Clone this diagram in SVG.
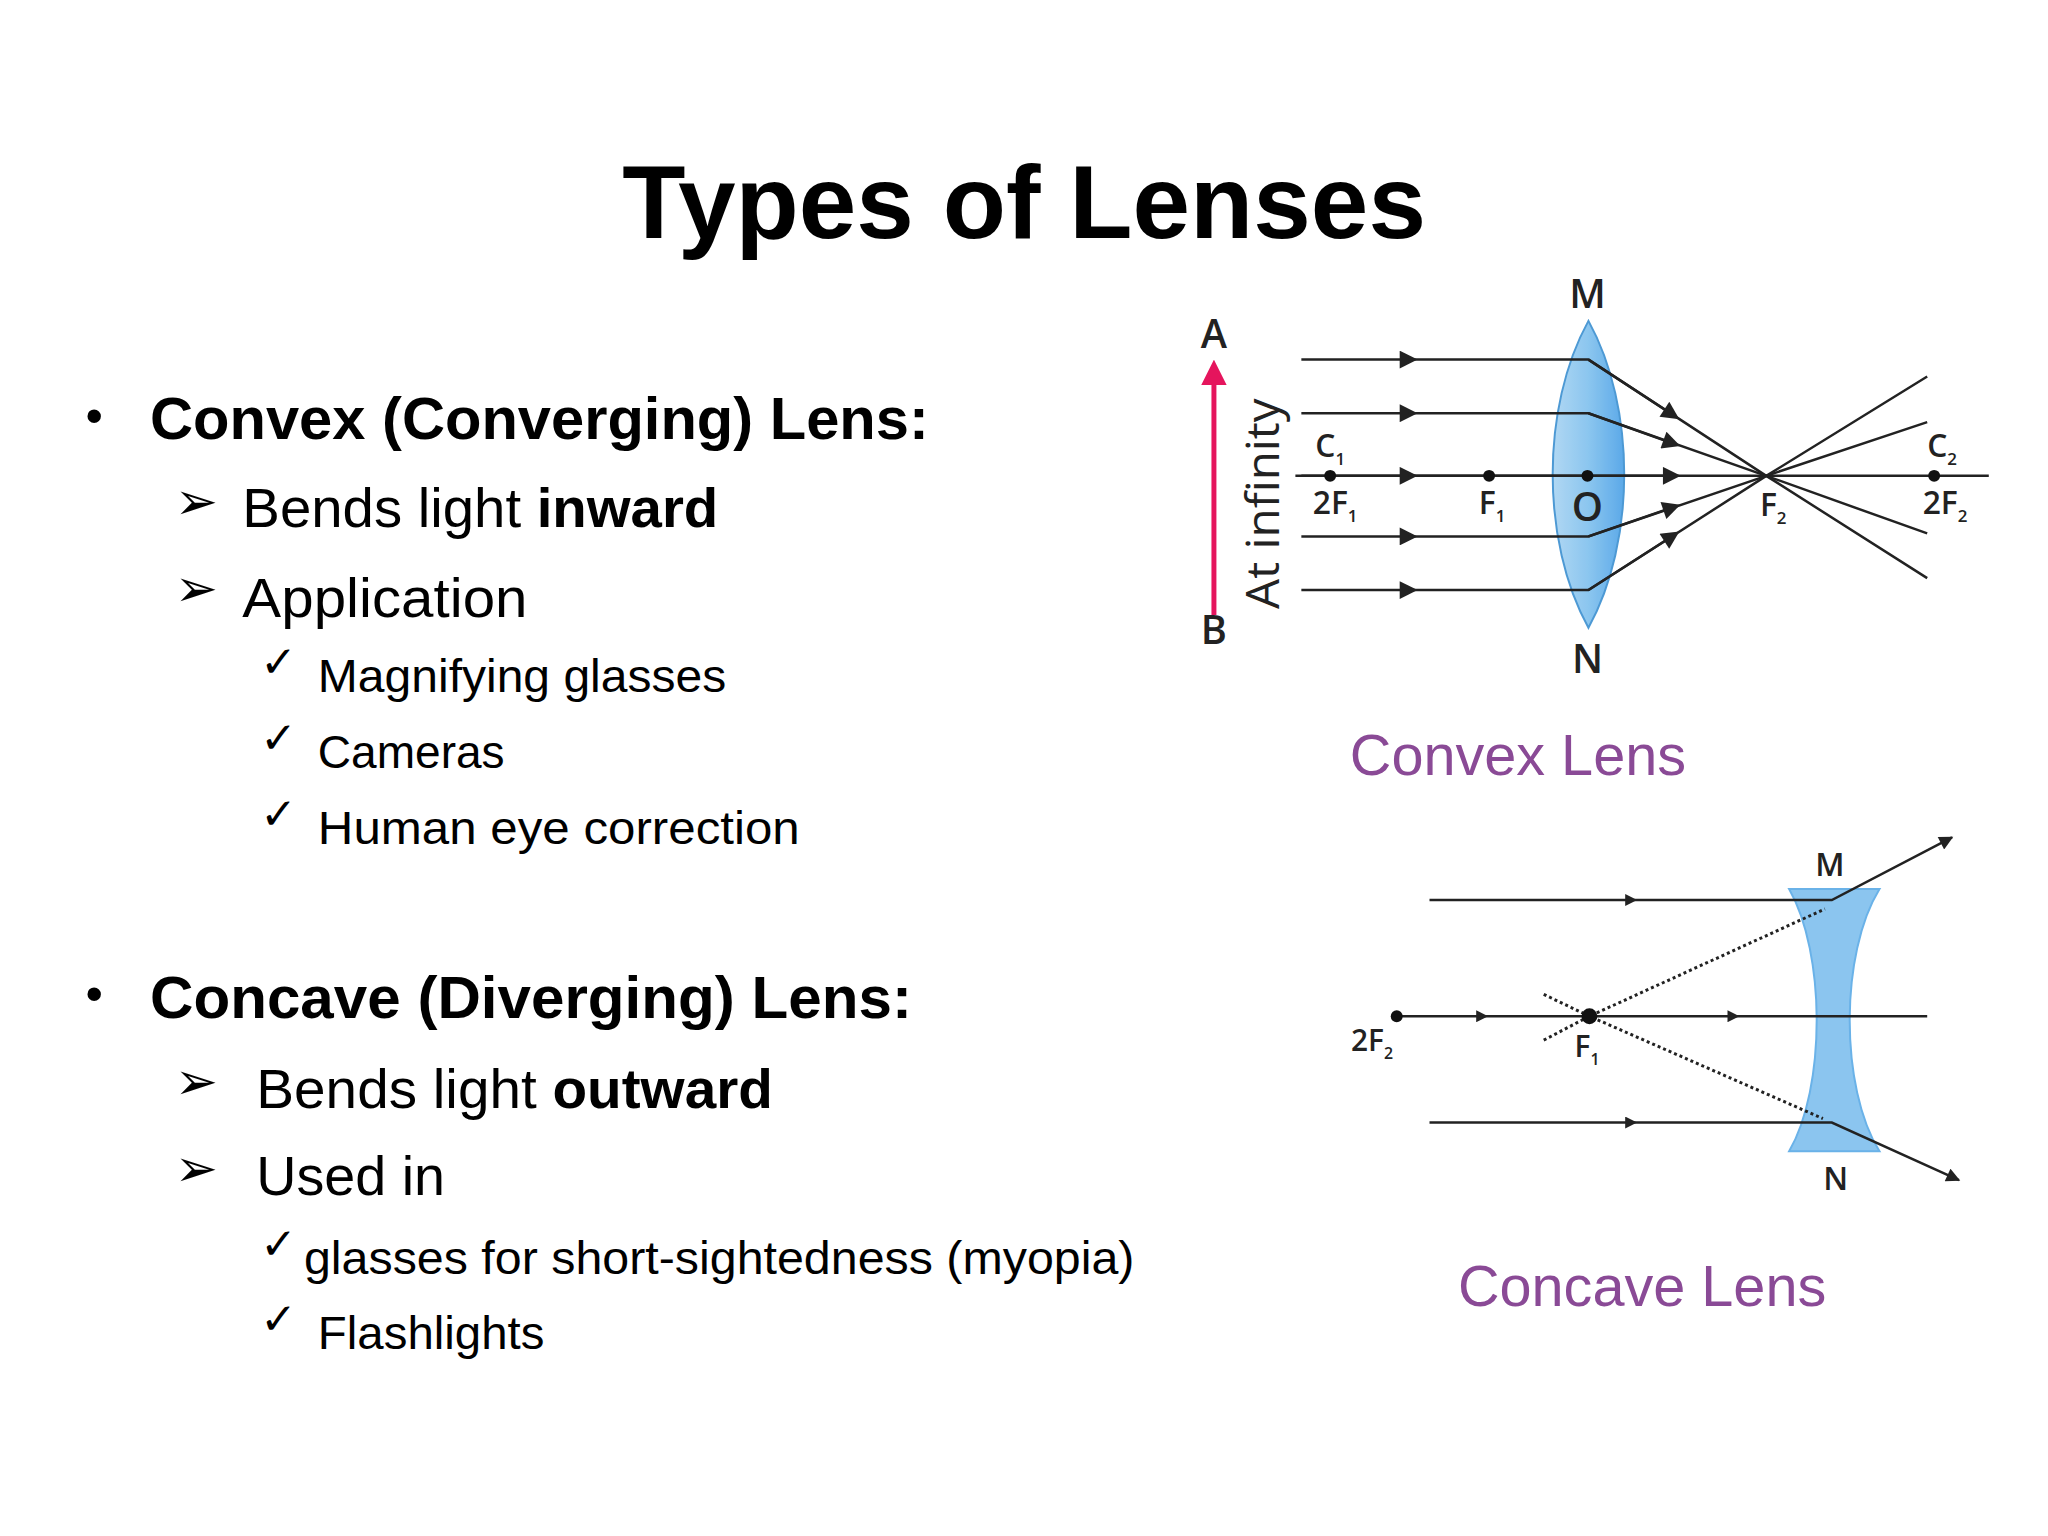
<svg xmlns="http://www.w3.org/2000/svg" width="2048" height="1536" viewBox="0 0 2048 1536">
<style>
.t{font-family:"Liberation Sans",Arial,sans-serif;fill:#000}
.b{font-weight:bold}
.sym{font-family:"DejaVu Sans",sans-serif;fill:#000}
.ray{stroke:#222;stroke-width:2.5;fill:none}
.dot{stroke:#222;stroke-width:3;fill:none;stroke-dasharray:3 3}
.lbl{font-family:"Open Sans","DejaVu Sans",sans-serif;fill:#222;font-weight:600}
.cap{font-family:"Liberation Sans",Arial,sans-serif;fill:#8a4a96;font-size:58px;text-anchor:middle}
</style>
<defs>
<marker id="ah" viewBox="0 0 10 10" refX="5" refY="5" markerWidth="20" markerHeight="18" orient="auto" markerUnits="userSpaceOnUse"><path d="M0,0 L10,5 L0,10 z" fill="#222"/></marker>
<marker id="ah2" viewBox="0 0 10 10" refX="9" refY="5" markerWidth="20" markerHeight="14" orient="auto" markerUnits="userSpaceOnUse"><path d="M0,0 L10,5 L0,10 z" fill="#222"/></marker>
<marker id="ahs" viewBox="0 0 10 10" refX="5" refY="5" markerWidth="14" markerHeight="12" orient="auto" markerUnits="userSpaceOnUse"><path d="M0,0 L10,5 L0,10 z" fill="#222"/></marker>
<marker id="pink" viewBox="0 0 10 10" refX="5" refY="5" markerWidth="26" markerHeight="30" orient="auto" markerUnits="userSpaceOnUse"><path d="M0,0 L10,5 L0,10 z" fill="#e5155d"/></marker>
<linearGradient id="lg" x1="0" x2="1"><stop offset="0" stop-color="#a9d4f2"/><stop offset="0.5" stop-color="#7fc0ee"/><stop offset="1" stop-color="#4aa0e6"/></linearGradient>
</defs>
<g transform="scale(0.9934)">
<g id="title"><text class="t b" x="1031" y="240" font-size="104" text-anchor="middle" textLength="809" lengthAdjust="spacingAndGlyphs">Types of Lenses</text></g>

<g id="text-convex">
<text class="t" x="86" y="436" font-size="50">•</text>
<text class="t b" x="151" y="442" font-size="60" textLength="784" lengthAdjust="spacingAndGlyphs">Convex (Converging) Lens:</text>
<text class="sym" x="176" y="522" font-size="52">➢</text>
<text class="t" x="244" y="531" font-size="55" textLength="479" lengthAdjust="spacingAndGlyphs">Bends light <tspan class="b">inward</tspan></text>
<text class="sym" x="176" y="610" font-size="52">➢</text>
<text class="t" x="244" y="621" font-size="55" textLength="287" lengthAdjust="spacingAndGlyphs">Application</text>
<text class="sym" x="262" y="682" font-size="44">✓</text>
<text class="t" x="320" y="697" font-size="46" textLength="411" lengthAdjust="spacingAndGlyphs">Magnifying glasses</text>
<text class="sym" x="262" y="758" font-size="44">✓</text>
<text class="t" x="320" y="773" font-size="46" textLength="188" lengthAdjust="spacingAndGlyphs">Cameras</text>
<text class="sym" x="262" y="835" font-size="44">✓</text>
<text class="t" x="320" y="850" font-size="46" textLength="485" lengthAdjust="spacingAndGlyphs">Human eye correction</text>
</g>

<g id="text-concave">
<text class="t" x="86" y="1018" font-size="50">•</text>
<text class="t b" x="151" y="1025" font-size="60" textLength="767" lengthAdjust="spacingAndGlyphs">Concave (Diverging) Lens:</text>
<text class="sym" x="176" y="1106" font-size="52">➢</text>
<text class="t" x="258" y="1115" font-size="55" textLength="520" lengthAdjust="spacingAndGlyphs">Bends light <tspan class="b">outward</tspan></text>
<text class="sym" x="176" y="1194" font-size="52">➢</text>
<text class="t" x="258" y="1203" font-size="55" textLength="190" lengthAdjust="spacingAndGlyphs">Used in</text>
<text class="sym" x="262" y="1267" font-size="44">✓</text>
<text class="t" x="306" y="1282" font-size="46" textLength="836" lengthAdjust="spacingAndGlyphs">glasses for short-sightedness (myopia)</text>
<text class="sym" x="262" y="1343" font-size="44">✓</text>
<text class="t" x="320" y="1358" font-size="46" textLength="228" lengthAdjust="spacingAndGlyphs">Flashlights</text>
</g>

<g id="convex-diagram">
<line x1="1222" y1="619" x2="1222" y2="375" stroke="#e5155d" stroke-width="5" marker-end="url(#pink)"/>
<text class="lbl" x="1222" y="350" font-size="40" text-anchor="middle">A</text>
<text class="lbl" x="1222" y="648" font-size="40" text-anchor="middle">B</text>
<text x="0" y="0" font-size="46" transform="translate(1287,507) rotate(-90)" text-anchor="middle" textLength="212" lengthAdjust="spacingAndGlyphs" style="font-family:'Open Sans',sans-serif;fill:#222">At infinity</text>
<path d="M1599,323 C1647,410 1647,545 1599,632 C1551,545 1551,410 1599,323 z" fill="url(#lg)" stroke="#3a8fd0" stroke-width="2" opacity="0.9"/>
<text class="lbl" x="1598" y="310" font-size="40" text-anchor="middle">M</text>
<text class="lbl" x="1598" y="677" font-size="40" text-anchor="middle">N</text>
</g>
<g id="convex-rays">
<line class="ray" x1="1304" y1="479" x2="2002" y2="479"/>
<path class="ray" d="M1310,362 H1418" marker-end="url(#ah)"/><path class="ray" d="M1418,362 H1599 L1778,479 L1940,582"/>
<path class="ray" d="M1310,416 H1418" marker-end="url(#ah)"/><path class="ray" d="M1418,416 H1599 L1778,479 L1940,537"/>
<path class="ray" d="M1310,479 H1418" marker-end="url(#ah)"/>
<path class="ray" d="M1418,479 H1683" marker-end="url(#ah)"/>
<path class="ray" d="M1310,540 H1418" marker-end="url(#ah)"/><path class="ray" d="M1418,540 H1599 L1778,479 L1940,425"/>
<path class="ray" d="M1310,594 H1418" marker-end="url(#ah)"/><path class="ray" d="M1418,594 H1599 L1778,479 L1940,379"/>
<path class="ray" d="M1599,362 L1683,417" marker-end="url(#ah)"/>
<path class="ray" d="M1599,416 L1683,446" marker-end="url(#ah)"/>
<path class="ray" d="M1599,540 L1683,511" marker-end="url(#ah)"/>
<path class="ray" d="M1599,594 L1683,540" marker-end="url(#ah)"/>
<g fill="#111"><circle cx="1339" cy="479" r="6"/><circle cx="1499" cy="479" r="6"/><circle cx="1598" cy="479" r="6"/><circle cx="1947" cy="479" r="6"/></g>
<g class="lbl" font-size="32" text-anchor="middle">
<text x="1339" y="460">C<tspan font-size="17" dy="8">1</tspan></text>
<text x="1344" y="517">2F<tspan font-size="17" dy="8">1</tspan></text>
<text x="1502" y="517">F<tspan font-size="17" dy="8">1</tspan></text>
<text x="1598" y="524" font-size="40">O</text>
<text x="1785" y="519">F<tspan font-size="17" dy="8">2</tspan></text>
<text x="1955" y="460">C<tspan font-size="17" dy="8">2</tspan></text>
<text x="1958" y="517">2F<tspan font-size="17" dy="8">2</tspan></text>
</g>
<text class="cap" x="1528" y="780">Convex Lens</text>
</g>

<g id="concave-diagram">
<path d="M1801,895 H1892 C1852,960 1852,1095 1892,1159 H1801 C1838,1095 1838,960 1801,895 z" fill="#7fbfee" stroke="#5aaae6" stroke-width="2" opacity="0.9"/>
<text class="lbl" x="1842" y="882" font-size="32" text-anchor="middle">M</text>
<text class="lbl" x="1848" y="1198" font-size="32" text-anchor="middle">N</text>
<g class="lbl" font-size="30">
<text x="1360" y="1058">2F<tspan font-size="16" dy="8">2</tspan></text>
<text x="1585" y="1064">F<tspan font-size="16" dy="8">1</tspan></text>
</g>
<text class="cap" x="1653" y="1315">Concave Lens</text>
</g>
<g id="concave-rays">
<path class="ray" d="M1439,906 H1642" marker-end="url(#ahs)"/><path class="ray" d="M1642,906 H1844 L1965,843" marker-end="url(#ah2)"/>
<path class="ray" d="M1406,1023 H1492" marker-end="url(#ahs)"/><path class="ray" d="M1492,1023 H1745" marker-end="url(#ahs)"/><path class="ray" d="M1745,1023 H1940"/>
<path class="ray" d="M1439,1130 H1642" marker-end="url(#ahs)"/><path class="ray" d="M1642,1130 H1844 L1972,1188" marker-end="url(#ah2)"/>
<path class="dot" d="M1554,1047 L1600,1023 L1837,915"/>
<path class="dot" d="M1554,1001 L1600,1023 L1835,1126"/>
<g fill="#111"><circle cx="1406" cy="1023" r="6"/><circle cx="1600" cy="1023" r="8"/></g>
</g>
</g>
</svg>
